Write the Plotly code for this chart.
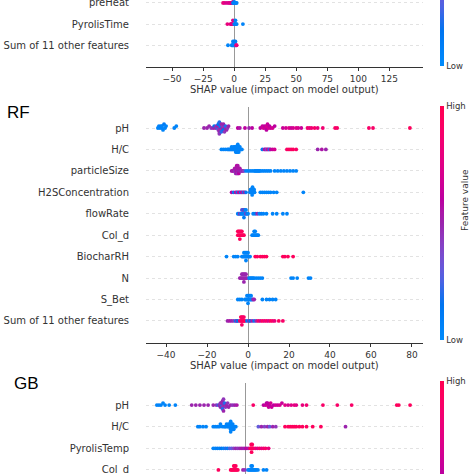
import numpy as np
import plotly.graph_objects as go

# --- top model (only its last rows are visible) ---
top_features = ['preHeat', 'PyrolisTime', 'Sum of 11 other features']
top_preheat_shap = [-9, -8, -6.5, -5, -4, -3, -2.5, -2, -1.5, -1, -1, -0.5, 0, 0, 0.5, 1, 1.5, 2]
top_preheat_feat = [0.8, 0.8, 0.7, 0.75, 0.7, 0.8, 0.7, 0.75, 0.8, 0.1, 0.7, 0.1, 0.1, 0.05, 0.05, 0.1, 0.05, 0.05]
top_ptime_shap = [-5.5, -3, -2.5, -2, -1.5, -1, -1, 0, 0.5, 1, 1, 1.5, 2, 7]
top_ptime_feat = [0.8, 0.8, 0.75, 0.8, 0.7, 0.8, 0.75, 0.05, 0.05, 0.1, 0.05, 0.05, 0.05, 0.05]
top_sum_shap = [-5, -2, -1.5, -1, -1, -0.5, 0, 0, 0.5, 1, 1, 1.5, 2]
top_sum_feat = [0.05, 0.05, 0.05, 0.1, 0.05, 0.05, 0.05, 0.1, 0.05, 0.05, 0.1, 0.7, 0.8]

# --- RF ---
rf_features = ['pH', 'H/C', 'particleSize', 'H2SConcentration', 'flowRate',
               'Col_d', 'BiocharRH', 'N', 'S_Bet', 'Sum of 11 other features']
rf_ph_shap = [-44, -43.5, -43, -42.5, -42, -42, -41.5, -41, -40.5, -40, -36, -35,
              -21.5, -20, -19,
              -18, -17, -16.5, -16, -15.5, -15, -15, -14.5, -14.5, -14, -14, -14, -13.5, -13.5,
              -13, -13, -13, -12.5, -12.5, -12, -12, -11.5, -11, -11, -10.5, -10, -9.5,
              -5, -4, -1.5, 0.5, 2,
              6, 7, 7.5, 8, 8.5, 9, 9, 9.5, 10, 10.5, 11, 12, 13,
              17, 18.5, 20, 21, 22, 23.5, 24.5, 26,
              29, 30, 31, 32.5, 34, 36.5, 42.5, 43.5, 59, 61, 79]
rf_ph_feat = [0.05, 0.05, 0.05, 0.1, 0.05, 0.05, 0.05, 0.1, 0.05, 0.05, 0.05, 0.05,
              0.5, 0.5, 0.5,
              0.45, 0.5, 0.15, 0.5, 0.45, 0.2, 0.5, 0.45, 0.15, 0.5, 0.2, 0.45, 0.5, 0.1,
              0.45, 0.5, 0.2, 0.5, 0.45, 0.15, 0.5, 0.45, 0.5, 0.2, 0.5, 0.45, 0.5,
              0.6, 0.55, 0.6, 0.5, 0.6,
              0.6, 0.65, 0.7, 0.6, 0.65, 0.7, 0.6, 0.65, 0.7, 0.6, 0.65, 0.7, 0.6,
              0.65, 0.7, 0.75, 0.65, 0.7, 0.75, 0.7, 0.65,
              0.85, 0.8, 0.85, 0.9, 0.8, 0.85, 0.9, 0.9, 0.9, 0.9, 0.95]
rf_hc_shap = [-13, -12, -11, -10, -9.5, -9, -8.5, -8, -8, -7.5, -7, -7, -6.5, -6.5, -6, -6, -6,
              -5.5, -5.5, -5.5, -5, -5, -5, -5, -4.5, -4.5, -4.5, -4, -4, -3.5, -3,
              7, 8, 8.5, 9, 9.5, 10, 10.5, 11, 12, 13,
              19, 20, 21, 22, 23.5, 34, 36, 38]
rf_hc_feat = [0.05] * 31 + [0.1, 0.5, 0.6, 0.3, 0.7, 0.5, 0.2, 0.6, 0.65, 0.7,
                            0.9, 0.95, 0.9, 0.95, 0.9, 0.5, 0.55, 0.5]
rf_psize_shap = [-8, -7.5, -7, -6.5, -6.5, -6, -6, -6, -5.5, -5.5, -5.5, -5.5, -5, -5, -5, -5,
                 -4.5, -4.5, -4.5, -4, -4, -3.5, -3, -2.5, -2,
                 -1, 0, 1, 2, 3, 3.5, 4, 4.5, 5, 5.5, 6, 7, 8, 9, 10, 11, 13, 14.5, 16, 17.5,
                 19, 20.5, 22, 23.5]
rf_psize_feat = [0.55, 0.5, 0.55, 0.45, 0.55, 0.5, 0.55, 0.45, 0.55, 0.5, 0.55, 0.6, 0.5, 0.55,
                 0.45, 0.55, 0.5, 0.55, 0.6, 0.5, 0.55, 0.5, 0.45, 0.5, 0.4] + [0.05] * 24
rf_h2s_shap = [-8, -7, -6, -5.5, -5, -4.5, -4, -3.5, -3, -2.5, -2, -1.5, -1,
               1, 1.2, 1.5, 1.5, 1.8, 2, 2, 2, 2.2, 2.5, 2.5, 2.8, 3, 3.2,
               6, 7, 8, 9, 10, 11, 12.5, 14, 27]
rf_h2s_feat = [0.6, 0.1, 0.65, 0.5, 0.1, 0.7, 0.6, 0.1, 0.65, 0.5, 0.1, 0.7, 0.1] + [0.05] * 23
rf_flow_shap = [-5, -4.5, -4, -3.5, -3, -3, -2.5, -2.5, -2, -2, -2, -1.5, -1.5, -1, -1, -0.5, 0,
                2.5, 3.5, 4.5, 5.5, 6.5, 7.5, 9, 12, 14, 17, 19]
rf_flow_feat = [0.1, 0.05, 0.5, 0.05, 0.1, 0.45, 0.05, 0.1, 0.05, 0.5, 0.1, 0.05, 0.1, 0.45,
                0.05, 0.1, 0.05, 0.05, 0.1, 0.5, 0.05, 0.1, 0.05, 0.05, 0.05, 0.05, 0.05, 0.05]
rf_cold_shap = [-5, -5, -4.5, -4.5, -4, -4, -4, -3.5, -3.5, -3, -3, -2.5, -2,
                2, 2.5, 3, 3, 3.5, 3.5, 4, 4.5, 5]
rf_cold_feat = [0.95] * 13 + [0.05] * 9
rf_biochar_shap = [-10.5, -7, -6, -5, -3, -2.5, -2, -2, -1.5, -1.5, -1, -1, -1, -0.5, -0.5, 0, 0,
                   0.5, 1, 3.5, 4.5, 6, 7, 8, 9, 17, 18, 19.5, 22]
rf_biochar_feat = [0.05] * 19 + [0.95] * 10
rf_n_shap = [-4, -3.5, -3, -3, -2.5, -2.5, -2, -2, -2, -1.5, -1.5, -1, -1, -0.5,
             0.5, 1, 1.5, 2, 2.5, 3, 4, 5, 6, 7, 21, 22, 24, 29.5, 30.5]
rf_n_feat = [0.5] * 14 + [0.05] * 15
rf_sbet_shap = [-5, -4, -3, -1.5, -1, -0.5, -0.5, 0, 0, 0, 0.5, 0.5, 1, 1, 1.5, 1.5, 2,
                2.5, 3, 7, 9, 10.5, 12, 13.5]
rf_sbet_feat = [0.05] * 17 + [0.5, 0.5] + [0.05] * 5
rf_sum_shap = [-10, -9, -8, -7, -6, -5.5, -5, -4, -3.5, -3.5, -3, -3, -3, -2.5, -2.5, -2, -2,
               -1.5, -0.5, 0.5, 1, 2, 3, 4, 5, 6, 7, 8, 9, 10, 11, 12, 13, 15, 17]
rf_sum_feat = [0.5, 0.55, 0.5, 0.45, 0.1, 0.5, 0.15, 0.95, 0.9, 0.95, 0.9, 0.95, 0.9, 0.95,
               0.9, 0.95, 0.9, 0.95, 0.1, 0.5, 0.15, 0.55, 0.1, 0.5, 0.9, 0.7, 0.95, 0.8,
               0.9, 0.75, 0.95, 0.9, 0.8, 0.95, 0.9]

# --- GB (only the first rows are visible) ---
gb_features = ['pH', 'H/C', 'PyrolisTemp', 'Col_d']
gb_ph_shap = [-43, -42, -41, -40, -39, -37, -34,
              -26, -24, -22, -20, -18,
              -15.5, -14, -13, -12.5, -12, -12, -11.5, -11.5, -11, -11, -11, -10.5, -10.5,
              -10, -10, -9.5, -9, -8.5, -8, -7, -6, -5, -4,
              4, 9, 10, 10.5, 11, 11, 11.5, 12, 12.5, 13, 14, 15, 16, 17, 18,
              19.5, 21, 22.5, 24, 25, 28, 30, 38, 45, 52, 74, 75, 80.5]
gb_ph_feat = [0.05] * 7 + [0.5] * 5 + \
             [0.5, 0.45, 0.2, 0.5, 0.45, 0.5, 0.2, 0.5, 0.45, 0.5, 0.2, 0.45, 0.5,
              0.5, 0.2, 0.45, 0.5, 0.45, 0.5, 0.5, 0.45, 0.5, 0.55] + \
             [0.9, 0.6, 0.65, 0.6, 0.7, 0.6, 0.65, 0.6, 0.7, 0.65, 0.6, 0.7, 0.65, 0.7, 0.65,
              0.75, 0.7, 0.75, 0.8, 0.75, 0.8, 0.85, 0.9, 0.9, 0.9, 0.95, 0.95, 0.95]
gb_hc_shap = [-23, -22, -20.5, -19,
              -15.5, -14.5, -13.5, -12.5, -12, -11, -10, -9.5, -9, -8.5, -8, -8, -7.5, -7.5,
              -7, -7, -7, -6.5, -6.5, -6.5, -6, -6, -5.5, -5, -4.5,
              6.5, 8, 9.5, 11, 12, 13.5, 15,
              19.5, 21, 22, 23, 24, 25, 26.5, 28, 30, 33, 37, 49]
gb_hc_feat = [0.05] * 29 + [0.3, 0.5, 0.4, 0.5, 0.3, 0.5, 0.45] + [0.95] * 11 + [0.5]
gb_ptemp_shap = [-15.5, -14.5, -13.5, -12.5, -11.5, -10.5, -9.5, -8.5, -7.5, -6.5,
                 -5.5, -4.5, -3.5, -2.5, -1.5, -0.5, 0.5, 1.5,
                 2.5, 2.8, 3, 3, 3.2, 3.5, 3.5, 3.8, 4, 5, 6, 7, 8, 9, 10, 11.5]
gb_ptemp_feat = [0.05, 0.05, 0.1, 0.05, 0.15, 0.05, 0.2, 0.1, 0.25, 0.3,
                 0.4, 0.5, 0.45, 0.5, 0.55, 0.5, 0.6, 0.55] + [0.95] * 9 + \
                [0.85, 0.75, 0.9, 0.8, 0.85, 0.9, 0.8]
gb_cold_shap = [-13, -7, -6.5, -6, -5.5, -5.5, -5, -5, -4.5, -4.5, -4, -3.5,
                -1, 0, 1.5, 2, 2.5, 3, 3, 3.5, 3.5, 4, 4.5, 5, 5.5, 6.3, 9, 10.5]
gb_cold_feat = [0.95] * 12 + [0.5, 0.45] + [0.05] * 14

top_shap = [top_preheat_shap, top_ptime_shap, top_sum_shap]
top_feat = [top_preheat_feat, top_ptime_feat, top_sum_feat]
rf_shap = [rf_ph_shap, rf_hc_shap, rf_psize_shap, rf_h2s_shap, rf_flow_shap,
           rf_cold_shap, rf_biochar_shap, rf_n_shap, rf_sbet_shap, rf_sum_shap]
rf_feat = [rf_ph_feat, rf_hc_feat, rf_psize_feat, rf_h2s_feat, rf_flow_feat,
           rf_cold_feat, rf_biochar_feat, rf_n_feat, rf_sbet_feat, rf_sum_feat]
gb_shap = [gb_ph_shap, gb_hc_shap, gb_ptemp_shap, gb_cold_shap]
gb_feat = [gb_ph_feat, gb_hc_feat, gb_ptemp_feat, gb_cold_feat]


def lch_to_hex(l, c, h):
    # CIE LCh -> sRGB (D65), same path as the red_blue map of shap
    a, b = c * np.cos(h), c * np.sin(h)
    fy = (l + 16) / 116
    fx, fz = fy + a / 500, fy - b / 200

    def finv(t):
        return t ** 3 if t > 6 / 29 else 3 * (6 / 29) ** 2 * (t - 4 / 29)
    X, Y, Z = 0.95047 * finv(fx), finv(fy), 1.08883 * finv(fz)
    rgb = [3.2406 * X - 1.5372 * Y - 0.4986 * Z,
           -0.9689 * X + 1.8758 * Y + 0.0415 * Z,
           0.0557 * X - 0.2040 * Y + 1.0570 * Z]
    out = []
    for v in rgb:
        v = 1.055 * v ** (1 / 2.4) - 0.055 if v > 0.0031308 else 12.92 * v
        out.append(int(round(min(max(v, 0), 1) * 255)))
    return '#%02x%02x%02x' % tuple(out)


steps = np.linspace(0, 1, 21)
colorscale = []
for t in steps:
    l = 54 + (40 - 54) * (t / 0.5) if t <= 0.5 else 40 + (54 - 40) * ((t - 0.5) / 0.5)
    c = 70 + (90 - 70) * t
    h = 4.6588 + (0.35470565 + 2 * np.pi - 4.6588) * t
    colorscale.append([float(t), lch_to_hex(l, c, h)])


def swarm(vals):
    # shap beeswarm stacking: 100 bins, alternate up / down
    v = np.array(vals, dtype=float)
    q = np.round(100 * (v - v.min()) / (v.max() - v.min() + 1e-8))
    ys = np.zeros(len(v))
    layer, last = 0, -1
    for i in np.argsort(q, kind='stable'):
        if q[i] != last:
            layer = 0
        ys[i] = np.ceil(layer / 2) * ((layer % 2) * 2 - 1)
        layer += 1
        last = q[i]
    return ys * 0.9 * (0.4 / np.max(ys + 1))


fig = go.Figure()

panels = [
    (top_features, top_shap, top_feat, 2, 'x', 'y', 'coloraxis'),
    (rf_features, rf_shap, rf_feat, 9, 'x2', 'y2', 'coloraxis2'),
    (gb_features, gb_shap, gb_feat, 9, 'x3', 'y3', 'coloraxis3'),
]
for names, shaps, feats, top, xa, ya, ca in panels:
    for i, (s, f) in enumerate(zip(shaps, feats)):
        fig.add_trace(go.Scatter(
            x=s, y=(top - i) + swarm(s), mode='markers', xaxis=xa, yaxis=ya,
            marker=dict(size=3.8, color=f, coloraxis=ca, line=dict(width=0)),
            showlegend=False, hoverinfo='skip'))

H = 474.0
xdom = [146 / H, 423 / H]
font_txt = dict(family='DejaVu Sans', size=10, color='#333333')


def xax(rng, ticks, show=True):
    return dict(domain=xdom, range=rng, tickvals=ticks if show else [], showticklabels=show,
                showline=show, linecolor='#333333', linewidth=1, ticks='outside' if show else '',
                ticklen=3, tickcolor='#333333', tickfont=dict(family='DejaVu Sans', size=9, color='#333333'),
                showgrid=False, zeroline=True, zerolinecolor='#999999', zerolinewidth=1)


def yax(dom, rng, names, top):
    return dict(domain=dom, range=rng, tickvals=[top - i for i in range(len(names))], ticktext=names,
                showgrid=True, gridcolor='#e2e2e2', gridwidth=0.5, griddash='dot',
                zeroline=False, showline=False, ticks='', ticklabelstandoff=16,
                ticklabeloverflow='allow', tickfont=font_txt)


def cbar(y, anchor):
    return dict(cmin=0, cmax=1, colorscale=colorscale,
                colorbar=dict(x=440 / H, xanchor='left', y=y, yanchor=anchor, len=234 / H,
                              lenmode='fraction', thickness=4, outlinewidth=0, xpad=0, ypad=0,
                              tickvals=[0, 1], ticktext=['Low', 'High'], ticks='',
                              tickfont=dict(family='DejaVu Sans', size=8.5, color='#333333')))


fig.update_layout(
    width=474, height=474, margin=dict(l=0, r=0, t=0, b=0, autoexpand=False),
    paper_bgcolor='white', plot_bgcolor='white',
    font=dict(family='DejaVu Sans', color='#333333'),
    xaxis=xax([-71, 152], [-50, -25, 0, 25, 50, 75, 100, 125]),
    yaxis=yax([1 - 67 / H, 1], [-1.03, 2.14], top_features, 2),
    xaxis2=xax([-49.8, 85.4], [-40, -20, 0, 20, 40, 60, 80]),
    yaxis2=yax([1 - 343 / H, 1 - 107 / H], [-1.03, 9.98], rf_features, 9),
    xaxis3=xax([-48.3, 86.8], [], show=False),
    yaxis3=yax([0, 1 - 383 / H], [5.81, 10.02], gb_features, 9),
    coloraxis=cbar(1 - 66 / H, 'bottom'),
    coloraxis2=cbar(1 - 106 / H, 'top'),
    coloraxis3=cbar(1 - 381 / H, 'top'),
)
fig.update_layout(xaxis2_anchor='y2', yaxis2_anchor='x2', xaxis3_anchor='y3', yaxis3_anchor='x3')

# axis titles, panel names, colorbar caption
for yy in [89, 365]:
    fig.add_annotation(text='SHAP value (impact on model output)', x=284.5 / H, y=1 - yy / H,
                       xref='paper', yref='paper', xanchor='center', yanchor='middle',
                       showarrow=False, font=font_txt)
fig.add_annotation(text='RF', x=5 / H, y=1 - 112 / H, xref='paper', yref='paper',
                   xanchor='left', yanchor='middle',
                   showarrow=False, font=dict(family='Liberation Sans', size=17, color='black'))
fig.add_annotation(text='GB', x=12 / H, y=1 - 383 / H, xref='paper', yref='paper',
                   xanchor='left', yanchor='middle',
                   showarrow=False, font=dict(family='Liberation Sans', size=17, color='black'))
fig.add_annotation(text='Feature value', x=465 / H, y=1 - 200 / H, xref='paper', yref='paper',
                   xanchor='center', yanchor='middle', textangle=-90, showarrow=False,
                   font=dict(family='DejaVu Sans', size=9, color='#333333'))

fig.write_html('out.html', config={'displayModeBar': False},
               post_script="document.body.style.margin='0px';")
